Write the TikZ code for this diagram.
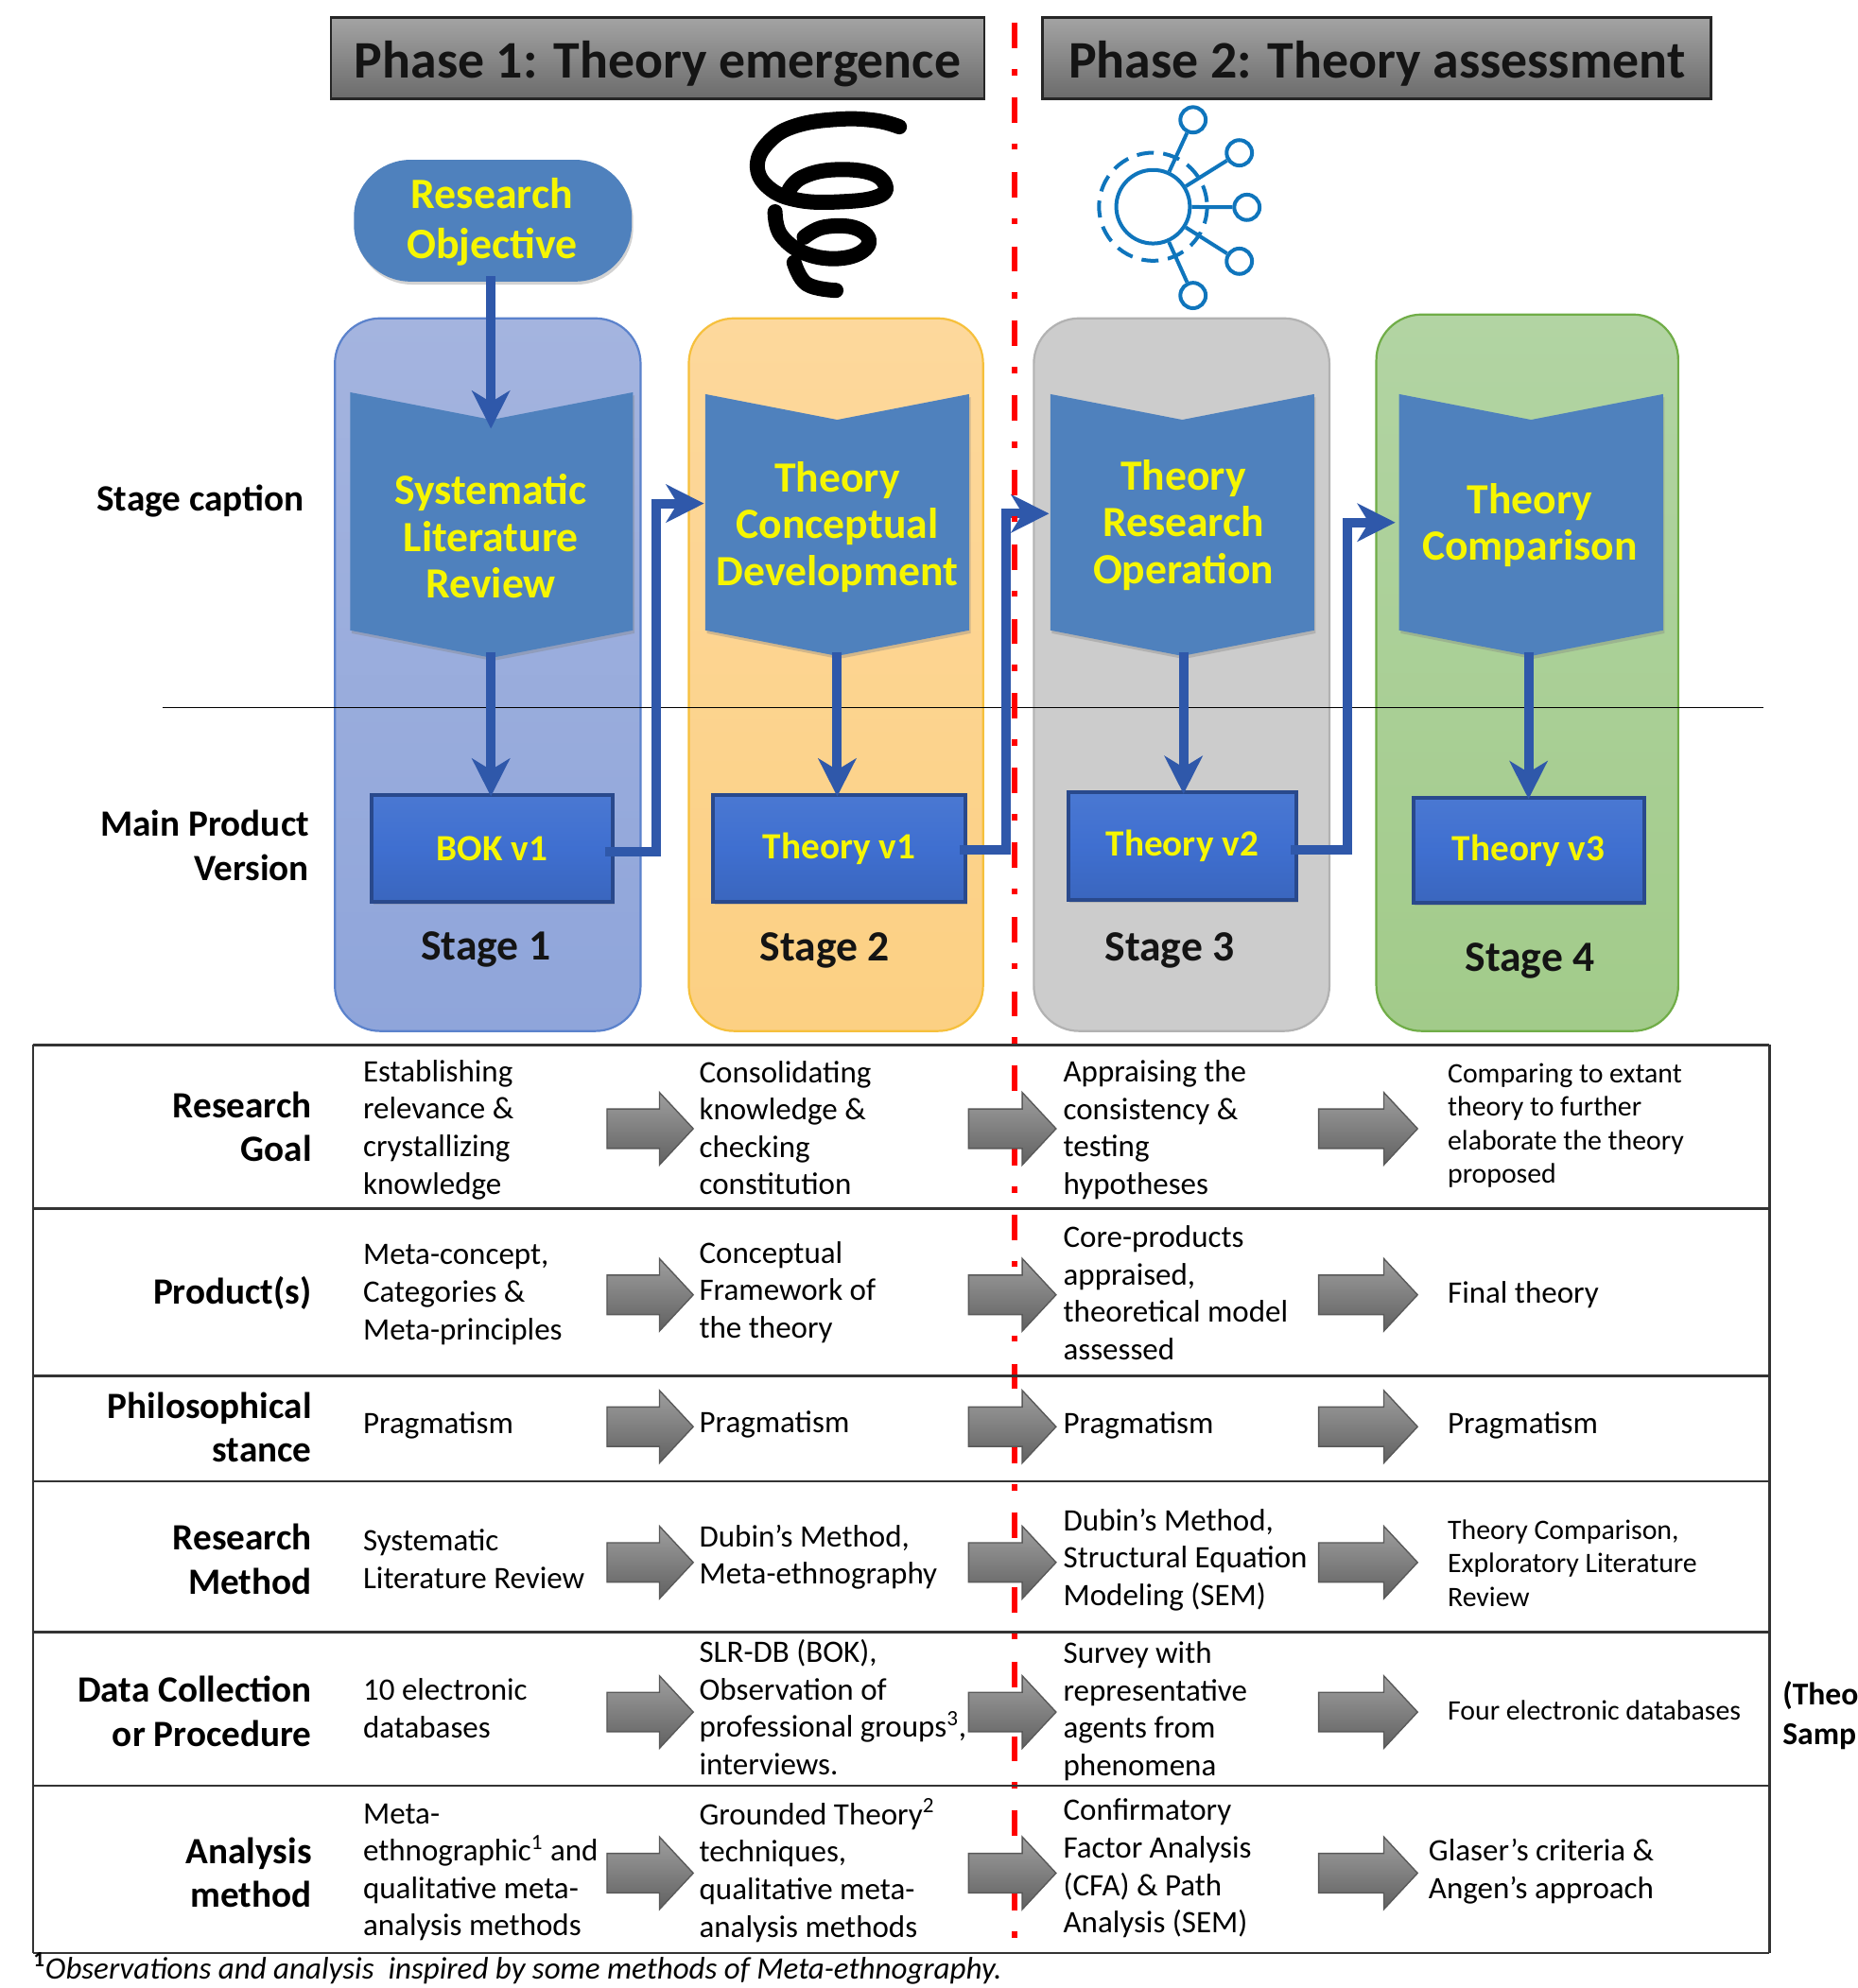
\documentclass[tikz,border=0pt]{standalone}
\usepackage{fontspec}
\setmainfont{Carlito}
\usetikzlibrary{shapes.symbols,shapes.arrows,shadows,arrows.meta,calc}
\def\uu{0.67075pt}
\definecolor{chevblue}{HTML}{4F81BD}
\definecolor{flowblue}{HTML}{2F58AA}
\definecolor{iconblue}{HTML}{0F75BC}
\definecolor{txtyellow}{HTML}{F6F600}
\definecolor{prodtop}{HTML}{4A78D2}
\definecolor{prodmid}{HTML}{3F6FD0}
\definecolor{prodbot}{HTML}{3A66BE}
\definecolor{prodedge}{HTML}{29498C}
\definecolor{orangetop}{HTML}{FDD89C}
\definecolor{orangebot}{HTML}{FCD083}
\definecolor{orangeedge}{HTML}{F6C03C}
\definecolor{bluetop}{HTML}{A4B4DF}
\definecolor{bluebot}{HTML}{8FA5DA}
\definecolor{blueedge}{HTML}{5B82CC}
\definecolor{greentop}{HTML}{B2D4A3}
\definecolor{greenbot}{HTML}{A2CB8A}
\definecolor{greenedge}{HTML}{70AD47}
\tikzset{
 phasebox/.style={draw=black!85,line width=1.3pt,top color=black!36,bottom color=black!58,minimum height=64*\uu,inner sep=0pt,
   font=\fontsize{27.9}{32}\selectfont\bfseries,text=black!92},
 col/.style={rounded corners=24pt,line width=1.1pt,inner sep=0pt},
 chev/.style={signal,signal from=north,signal to=south,signal pointer angle=158,fill=chevblue,inner sep=0pt,draw=none,
   drop shadow={opacity=.35,shadow xshift=.8pt,shadow yshift=-1.6pt}},
 chevtxt/.style={font=\fontsize{22.8}{24.8}\selectfont\bfseries,text=txtyellow,align=center,inner sep=0pt},
 objbox/.style={rounded corners=30pt,fill=chevblue,inner sep=0pt,minimum width=219*\uu,minimum height=96*\uu,align=center,
   font=\fontsize{22.9}{26.4}\selectfont\bfseries,text=txtyellow,drop shadow={opacity=.35,shadow xshift=.8pt,shadow yshift=-1.6pt}},
 prodbox/.style={draw=prodedge,line width=2pt,top color=prodtop,bottom color=prodbot,middle color=prodmid,
   inner sep=0pt,font=\fontsize{19.6}{22}\selectfont\bfseries,text=txtyellow,
   drop shadow={opacity=.3,shadow xshift=.8pt,shadow yshift=-1.4pt}},
 stagelab/.style={font=\fontsize{22.8}{26}\selectfont\bfseries,text=black!92,inner sep=0pt},
 flowarrow/.style={draw=flowblue,line width=5pt,-{Stealth[length=20pt,width=20pt,inset=6pt]}},
 sidelab/.style={font=\fontsize{19.6}{23.4}\selectfont\bfseries,align=right,anchor=east,inner sep=0pt},
 celltxt/.style={font=\fontsize{16.5}{19.8}\selectfont,align=left,anchor=west,inner sep=0pt,yshift=-.9pt},
 smalltxt/.style={font=\fontsize{14.9}{17.8}\selectfont,align=left,anchor=west,inner sep=0pt},
 grayarrow/.style={single arrow,draw=black!65,line width=.7pt,top color=black!38,bottom color=black!62,inner xsep=0pt,inner ysep=15*\uu,
   single arrow head extend=13*\uu,single arrow tip angle=94,minimum width=56*\uu,anchor=tail},
 rowline/.style={draw=black!80,line width=1.3pt},
 dashline/.style={draw=red,line width=3pt,dash pattern=on 13.4pt off 11pt on 3.3pt off 11.7pt},
 hubline/.style={draw=iconblue,line width=2pt},
 leaf/.style={circle,draw=iconblue,line width=2pt,minimum size=20*\uu,inner sep=0pt},
 twist/.style={draw=black,line width=8pt,line cap=round,line join=round},
}
\begin{document}
\begin{tikzpicture}[x=0.67075pt,y=-0.67075pt]
\useasboundingbox (0,0) rectangle (1464,1567.6);
\fill[white] (0,0) rectangle (1464,1567.6);
% stage columns
\path[col,draw=blueedge,top color=bluetop,bottom color=bluebot] (264,251) rectangle (505,813);
\path[col,draw=orangeedge,top color=orangetop,bottom color=orangebot] (543,251) rectangle (775,813);
\path[col,draw=black!30,fill=black!20] (815,251) rectangle (1048,813);
\path[col,draw=greenedge,top color=greentop,bottom color=greenbot] (1085,248) rectangle (1323,813);
% phase headers
\node[phasebox,minimum width=515*\uu,text depth=0pt] (ph1) at (518.5,46) {\raisebox{-1.5pt}{Phase 1: Theory emergence}};
\node[phasebox,minimum width=527*\uu,text depth=0pt] (ph2) at (1085.5,46) {\raisebox{-1.5pt}{Phase 2: Theory assessment}};
% chevrons
\node[chev,minimum width=223*\uu,minimum height=166*\uu] (c1) at (387.5,414) {};
\node[chev,minimum width=208*\uu,minimum height=166*\uu] (c2) at (660,414) {};
\node[chev,minimum width=208*\uu,minimum height=166*\uu] (c3) at (932,414) {};
\node[chev,minimum width=208*\uu,minimum height=166*\uu] (c4) at (1207,414) {};
\node[chevtxt] (t1) at (387,423) {Systematic\\Literature\\Review};
\node[chevtxt] (t2) at (660,415.5) {Theory\\Conceptual\\Development};
\node[chevtxt] (t3) at (933,414) {Theory\\Research\\Operation};
\node[chevtxt] (t4) at (1206,414) {Theory\\Comparison};
\node[objbox] (obj) at (388.5,174) {};
\node[inner sep=0pt,align=center,font=\fontsize{22.9}{26.4}\selectfont\bfseries,text=txtyellow] (objt) at (388,175) {Research\\Objective};
% product boxes
\node[prodbox,minimum width=190*\uu,minimum height=84*\uu] (b1) at (388,669) {BOK v1};
\node[prodbox,minimum width=199*\uu,minimum height=84*\uu] (b2) at (661.5,669) {Theory v1};
\node[prodbox,minimum width=180*\uu,minimum height=85*\uu] (b3) at (932,667) {Theory v2};
\node[prodbox,minimum width=182*\uu,minimum height=83*\uu] (b4) at (1205,670.5) {Theory v3};
\node[stagelab] (s1) at (383,748.5) {Stage 1};
\node[stagelab] (s2) at (650,749.5) {Stage 2};
\node[stagelab] (s3) at (922,749.5) {Stage 3};
\node[stagelab] (s4) at (1206,757.5) {Stage 4};
% divider
\coordinate (divl) at (128,558); \coordinate (divr) at (1390,558);
\draw[black,line width=.8pt] (divl) -- (divr);
\node[sidelab] (capn) at (240,395) {Stage caption};
\node[sidelab] (mainp) at (244,666.5) {Main Product\\Version};
% blue arrows
\coordinate (in1) at (387,338);
\draw[flowarrow] ([yshift=3pt]obj.south -| in1) -- (in1);
\draw[flowarrow] (387,514) coordinate (o1) -- (387,628) coordinate (p1);
\draw[flowarrow] (660,514) coordinate (o2) -- (660,628) coordinate (p2);
\draw[flowarrow] (933,514) coordinate (o3) -- (933,626) coordinate (p3);
\draw[flowarrow] (1205,514) coordinate (o4) -- (1205,630) coordinate (p4);
\coordinate (j1) at (517,397); \coordinate (i2) at (555,397);
\coordinate (j2) at (793,405); \coordinate (i3) at (827,405);
\coordinate (j3) at (1062,412); \coordinate (i4) at (1100,412);
\draw[flowarrow] ([xshift=-5pt,yshift=-2pt]b1.east) -| (j1) -- (i2);
\draw[flowarrow] ([xshift=-4pt,yshift=-1pt]b2.east) -| (j2) -- (i3);
\draw[flowarrow] ([xshift=-4pt,yshift=-2pt]b3.east) -| (j3) -- (i4);
% phase divider
\coordinate (rt) at (800,18); \coordinate (rb) at (800,1540);
\draw[dashline] (rt) -- (rb);
% spiral icon
\draw[twist] plot[smooth,tension=.7] coordinates {(709,100) (690,95) (661,94) (628,99) (607,111) (597,130) (606,148) (630,158) (665,159) (692,155) (698,146) (685,136) (655,134) (632,140) (622,150)};
\draw[twist] plot[smooth,tension=.7] coordinates {(611,167) (616,186) (638,201) (668,203) (685,192) (675,180) (650,179) (634,187)};
\draw[twist] plot[smooth,tension=.7] coordinates {(626,207) (636,224) (659,229)};
% network icon
\node[circle,draw=iconblue,line width=2pt,minimum size=58*\uu,inner sep=0pt] (hub) at (909,163) {};
\draw[iconblue,line width=2pt,dash pattern=on 9pt off 5pt] (909,163) circle[radius=42.6];
\node[leaf] (l1) at (940.5,94.5) {};
\node[leaf] (l2) at (977,120.5) {};
\node[leaf] (l3) at (983,163.5) {};
\node[leaf] (l4) at (977,206) {};
\node[leaf] (l5) at (940.5,233) {};
\foreach \k in {1,...,5} \draw[hubline] (hub) -- (l\k);
% table
\coordinate (tl) at (26,824); \coordinate (tr) at (1395,824);
\coordinate (bl) at (26,1540); \coordinate (br) at (1395,1540);
\draw[draw=black!80,line width=1.2pt] (tl) -- (bl) (tr) -- (br);
\foreach \y in {824,953,1085,1168,1287,1408,1540} \draw[rowline] (26,\y) -- (1395,\y);
% gray arrows
\foreach \n/\y in {1/890,2/1021,3/1125,4/1232,5/1350,6/1477} {
 \node[grayarrow,minimum height=68*\uu] (gaa\n) at (478,\y) {};
 \node[grayarrow,minimum height=69*\uu] (gbb\n) at (763,\y) {};
 \node[grayarrow,minimum height=78*\uu] (gcc\n) at (1039,\y) {};
}
% row labels
\node[sidelab] (r1) at (246,888.5) {Research\\Goal};
\node[sidelab] (r2) at (246,1020) {Product(s)};
\node[sidelab] (r3) at (246,1125.5) {Philosophical\\stance};
\node[sidelab] (r4) at (246,1229.5) {Research\\Method};
\node[sidelab] (r5) at (246,1349.5) {Data Collection\\or Procedure};
\node[sidelab] (r6) at (246,1476.5) {Analysis\\method};
% cells
\node[celltxt] (a1) at (286,889.5) {Establishing\\relevance \&\\crystallizing\\knowledge};
\node[celltxt] (b1x) at (551,888) {Consolidating\\knowledge \&\\checking\\constitution};
\node[celltxt] (c1x) at (838,889.5) {Appraising the\\consistency \&\\testing\\hypotheses};
\node[smalltxt] (d1) at (1141,887.5) {Comparing to extant\\theory to further\\elaborate the theory\\proposed};
\node[celltxt] (a2) at (286,1019.5) {Meta-concept,\\Categories \&\\Meta-principles};
\node[celltxt] (b2x) at (551,1017.5) {Conceptual\\Framework of\\the theory};
\node[celltxt] (c2x) at (838,1018) {Core-products\\appraised,\\theoretical model\\assessed};
\node[celltxt] (d2) at (1141,1020) {Final theory};
\node[celltxt] (a3) at (286,1123) {Pragmatism};
\node[celltxt] (b3x) at (551,1122) {Pragmatism};
\node[celltxt] (c3x) at (838,1123) {Pragmatism};
\node[celltxt] (d3) at (1141,1123) {Pragmatism};
\node[celltxt] (a4) at (286,1228) {Systematic\\Literature Review};
\node[celltxt] (b4x) at (551,1226.5) {Dubin’s Method,\\Meta-ethnography};
\node[celltxt] (c4x) at (838,1228.5) {Dubin’s Method,\\Structural Equation\\Modeling (SEM)};
\node[smalltxt] (d4) at (1141,1232.5) {Theory Comparison,\\Exploratory Literature\\Review};
\node[celltxt] (a5) at (286,1345.5) {10 electronic\\databases};
\node[celltxt] (b5x) at (551,1345) {SLR-DB (BOK),\\Observation of\\professional groups\textsuperscript{3},\\interviews.};
\node[celltxt] (c5x) at (838,1348) {Survey with\\representative\\agents from\\phenomena};
\node[smalltxt] (d5) at (1141,1349) {Four electronic databases};
\node[celltxt] (a6) at (286,1475) {Meta-\\ethnographic\textsuperscript{1} and\\qualitative meta-\\analysis methods};
\node[celltxt] (b6x) at (551,1473.5) {Grounded Theory\textsuperscript{2}\\techniques,\\qualitative meta-\\analysis methods};
\node[celltxt] (c6x) at (838,1472) {Confirmatory\\Factor Analysis\\(CFA) \& Path\\Analysis (SEM)};
\node[celltxt] (d6) at (1126,1474.5) {Glaser’s criteria \&\\Angen’s approach};
% right clipped label
\node[font=\fontsize{16.8}{20.8}\selectfont\bfseries,align=left,anchor=west,inner sep=0pt] (cut) at (1405,1352.5) {(Theo\\Samp};
% footnote
\node[font=\fontsize{16.5}{18}\selectfont\itshape,anchor=west,inner sep=0pt] (fn) at (26,1552) {\textsuperscript{\bfseries\upshape 1}Observations and analysis\ \ inspired by some methods of Meta-ethnography.};
\end{tikzpicture}
\end{document}
